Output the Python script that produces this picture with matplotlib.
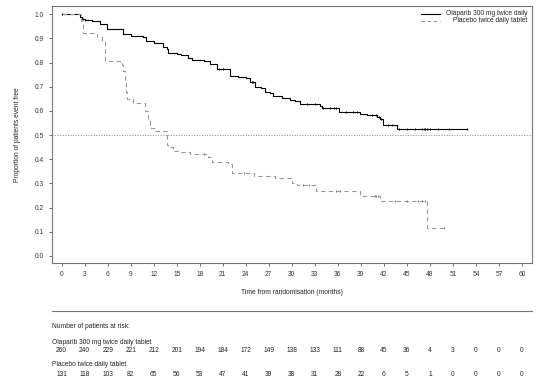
import numpy as np
import matplotlib.pyplot as plt
from matplotlib.lines import Line2D

# Kaplan-Meier step data (months, proportion event free)
ola_t = [0, 2.4, 2.7, 3.0, 4.0, 5.0, 5.9, 8.0, 9.0, 10.6, 11.0, 12.0, 13.2, 13.7, 13.9,
         15.0, 15.5, 16.5, 17.0, 18.5, 19.3, 20.3, 21.9, 23.0, 24.0, 24.5, 25.2, 26.0,
         26.5, 27.2, 27.6, 28.7, 29.8, 30.4, 31.1, 33.7, 33.9, 36.1, 38.9, 39.8, 41.1,
         41.5, 41.9, 43.7, 52.8]
ola_s = [1.0, 0.99, 0.98, 0.975, 0.97, 0.96, 0.94, 0.917, 0.91, 0.905, 0.89, 0.88, 0.865,
         0.855, 0.841, 0.835, 0.83, 0.82, 0.81, 0.805, 0.795, 0.775, 0.745, 0.74, 0.735,
         0.72, 0.70, 0.695, 0.68, 0.676, 0.66, 0.655, 0.645, 0.64, 0.627, 0.62, 0.613,
         0.595, 0.588, 0.582, 0.575, 0.568, 0.542, 0.527, 0.527]
ola_cens = [0, 2.8, 3.0, 20.5, 21.0, 24.8, 25.0, 32.0, 33.0, 34.0, 35.0, 35.5, 35.8, 37.0,
            38.0, 38.5, 40.5, 41.0, 41.3, 41.6, 42.5, 43.0, 44.0, 45.0, 46.0, 47.0, 47.2,
            47.4, 47.6, 48.0, 49.0, 50.5, 52.8]

pla_t = [0, 2.5, 2.8, 4.6, 5.2, 5.6, 7.6, 7.8, 8.0, 8.2, 8.4, 8.5, 9.3, 10.9, 11.2, 11.5,
         12.0, 13.7, 13.9, 14.5, 15.4, 16.7, 18.0, 19.1, 19.6, 21.7, 22.2, 25.1, 27.8,
         30.0, 30.7, 33.2, 38.9, 41.5, 47.6, 49.8]
pla_s = [1.0, 0.97, 0.921, 0.905, 0.89, 0.807, 0.80, 0.79, 0.766, 0.72, 0.68, 0.65, 0.632,
         0.60, 0.56, 0.53, 0.515, 0.46, 0.45, 0.436, 0.43, 0.42, 0.42, 0.41, 0.387, 0.38,
         0.345, 0.332, 0.322, 0.30, 0.292, 0.27, 0.25, 0.228, 0.116, 0.116]
pla_cens = [18.5, 23.7, 31.5, 32.2, 35.8, 36.3, 40.8, 41.0, 41.2, 43.5, 45.0, 46.5, 47.0,
            47.3, 49.8]

months = list(range(0, 61, 3))
ola_risk = [260, 240, 229, 221, 212, 201, 194, 184, 172, 149, 138, 133, 111, 88, 45, 36, 4, 3, 0, 0, 0]
pla_risk = [131, 118, 103, 82, 65, 56, 53, 47, 41, 39, 38, 31, 28, 22, 6, 5, 1, 0, 0, 0, 0]

ola_label = "Olaparib 300 mg twice daily"
pla_label = "Placebo twice daily tablet"


def surv_at(times, t, s):
    idx = np.searchsorted(t, times, side='right') - 1
    return np.array(s)[idx]


plt.rcParams['font.family'] = ['Liberation Sans', 'DejaVu Sans']
fs = 4.8
txtcol = '#222222'
W, H = 544, 384

fig = plt.figure(figsize=(5.44, 3.84), dpi=100)
ax = fig.add_axes([52/W, 1-263/H, 480/W, 257/H])

ax.axhline(0.5, color='#888888', linestyle=':', linewidth=0.7)
ax.plot(ola_t, ola_s, drawstyle='steps-post', color='black', linewidth=0.8)
ax.plot(pla_t, pla_s, drawstyle='steps-post', color='#999999', linewidth=0.8,
        dashes=(4, 3))
ax.plot(ola_cens, surv_at(ola_cens, ola_t, ola_s), linestyle='none', marker='|',
        color='black', markersize=1.8, markeredgewidth=0.7)
ax.plot(pla_cens, surv_at(pla_cens, pla_t, pla_s), linestyle='none', marker='|',
        color='#777777', markersize=1.8, markeredgewidth=0.7)

ax.set_xlim(-1.26, 61.3)
ax.set_ylim(-0.029, 1.034)
ax.set_xticks(months)
ax.set_yticks(np.arange(0, 1.01, 0.1))
ax.set_yticklabels([f"{v:.1f}" for v in np.arange(0, 1.01, 0.1)])
ax.tick_params(labelsize=fs, length=2.5, width=0.6, colors='#555555', labelcolor='#333344')
for sp in ax.spines.values():
    sp.set_color('#777777')
    sp.set_linewidth(0.8)
ax.set_xlabel("Time from randomisation (months)", fontsize=fs, color=txtcol, labelpad=7.5)
ax.set_ylabel("Proportion of patients event free", fontsize=fs, color=txtcol, labelpad=10)

# legend: short line sample, text right-aligned
fig.add_artist(Line2D([421/W, 440/W], [1-13.5/H, 1-13.5/H], color='black', linewidth=0.8))
fig.add_artist(Line2D([421/W, 440/W], [1-21/H, 1-21/H], color='#999999', linewidth=0.8,
                      dashes=(3, 2.5)))
fig.text(527/W, 1-13.5/H, ola_label, fontsize=fs, color=txtcol, ha='right', va='center')
fig.text(527/W, 1-21/H, pla_label, fontsize=fs, color=txtcol, ha='right', va='center')

# number at risk table
fig.add_artist(Line2D([52/W, 532/W], [1-311/H, 1-311/H], color='#777777', linewidth=0.8))
fig.text(52/W, 1-327/H, "Number of patients at risk:", fontsize=fs, color=txtcol,
         va='center')
fig.text(52/W, 1-342/H, ola_label + " tablet", fontsize=fs, color=txtcol, va='center')
fig.text(52/W, 1-365/H, pla_label, fontsize=fs, color=txtcol, va='center')
for m, a, b in zip(months, ola_risk, pla_risk):
    xf = (52 + (m + 1.26) / (61.3 + 1.26) * 480) / W
    fig.text(xf, 1-351/H, str(a), fontsize=fs, color=txtcol, ha='center', va='center')
    fig.text(xf, 1-374/H, str(b), fontsize=fs, color=txtcol, ha='center', va='center')

fig.savefig("out.png", dpi=100)
